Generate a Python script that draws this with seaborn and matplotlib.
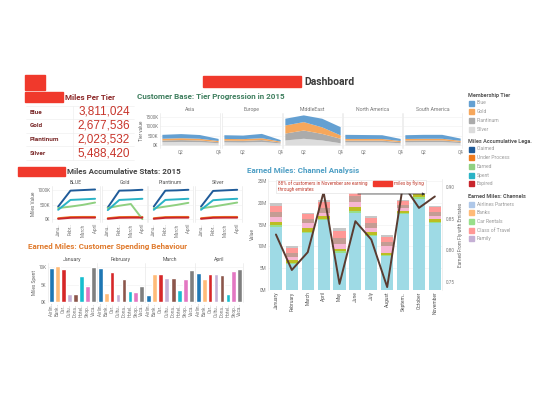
import matplotlib
matplotlib.use("Agg")
import matplotlib.pyplot as plt
import seaborn as sns
import pandas as pd
import numpy as np
from matplotlib.patches import Rectangle

# ---------------- data ----------------
tiers = ["Blue", "Gold", "Plantinum", "Silver"]
tier_miles = [3811024, 2677536, 2023532, 5488420]

regions = ["Asia", "Europe", "MiddleEast", "North America", "South America"]
quarters = ["Q1", "Q2", "Q3", "Q4"]
# tier value (K) per region, per quarter
silver_k = [[180, 190, 180, 120], [170, 160, 190, 110], [270, 360, 270, 120], [170, 170, 170, 120], [170, 180, 180, 130]]
plat_k = [[90, 100, 90, 60], [90, 90, 100, 50], [370, 440, 350, 240], [90, 90, 90, 60], [90, 90, 90, 60]]
gold_k = [[90, 100, 90, 60], [90, 90, 100, 50], [430, 450, 350, 180], [90, 90, 90, 60], [90, 90, 90, 60]]
blue_k = [[210, 220, 200, 110], [200, 190, 230, 80], [360, 360, 460, 440], [220, 210, 200, 110], [200, 210, 210, 120]]

acc_tiers = ["BLUE", "Gold", "Plantinum", "Silver"]
acc_months = ["Janu..", "Febr..", "March", "April"]
acc_status = ["Claimed", "Under Process", "Earned", "Spent", "Expired"]
claimed_k = [[430, 980, 1000, 1020], [400, 980, 990, 1010], [430, 980, 990, 1010], [430, 970, 990, 1010]]
process_k = [[30, 70, 75, 75], [30, 70, 75, 75], [30, 70, 75, 75], [30, 70, 75, 75]]
earned_k = [[380, 430, 490, 570], [380, 460, 520, 0], [370, 430, 490, 560], [370, 430, 500, 570]]
spent_k = [[320, 660, 680, 700], [310, 660, 680, 700], [320, 660, 680, 700], [320, 650, 680, 700]]
expired_k = [[10, 45, 50, 50], [10, 45, 50, 50], [10, 45, 50, 50], [10, 45, 50, 50]]

spend_months = ["January", "February", "March", "April"]
spend_cats = ["Airlin..", "Bank..", "Car..", "Cultu..", "Dona..", "Hotel..", "Shop..", "Vaca.."]
spend_k = [[9.9, 10.3, 9.4, 2.2, 2.4, 7.5, 4.5, 10.1],
           [9.8, 2.6, 8.6, 2.3, 6.5, 3.3, 3.0, 4.7],
           [2.0, 8.0, 8.0, 7.0, 6.9, 3.4, 6.6, 9.3],
           [8.2, 6.5, 8.0, 8.0, 7.8, 2.4, 8.8, 9.4]]

ch_months = ["January", "February", "March", "April", "May", "June", "July", "August",
             "Septem..", "October", "November"]
ch_fly = [14.5, 6.0, 13.0, 16.0, 8.5, 17.7, 12.4, 7.8, 17.4, 21.0, 15.3]
ch_car = [0.4, 0.3, 0.4, 0.3, 0.4, 0.4, 0.3, 0.3, 0.3, 0.3, 0.3]
ch_hotel = [0.7, 0.6, 0.8, 0.6, 0.6, 0.9, 0.6, 0.5, 0.5, 0.7, 0.6]
ch_shop = [1.1, 0.7, 1.1, 0.9, 1.1, 1.2, 0.9, 1.4, 0.6, 0.5, 0.8]
ch_family = [1.2, 0.9, 1.0, 1.0, 1.4, 1.3, 1.1, 1.0, 0.8, 0.7, 0.9]
ch_class = [1.5, 1.1, 1.1, 1.4, 1.6, 1.6, 1.3, 1.2, 0.8, 0.8, 1.1]
ch_bank = [0.6, 0.4, 0.4, 0.4, 0.7, 0.7, 0.5, 0.5, 0.3, 0.3, 0.4]
fly_ratio = [0.825, 0.769, 0.797, 0.892, 0.747, 0.846, 0.817, 0.742, 0.904, 0.867, 0.885]

# ---------------- style ----------------
RED = "#f0392c"
TICK = "#777777"
area_colors = ["#dcdcdc", "#ababab", "#f6a75c", "#64a0d2"]   # silver, plat, gold, blue
acc_colors = {"Claimed": "#1f5b99", "Under Process": "#f07c1f", "Earned": "#8fd081",
              "Spent": "#2ab3c6", "Expired": "#c8252c"}
spend_colors = ["#1f77b4", "#ffbb78", "#d62728", "#c5b0d5", "#8c564b", "#17becf", "#e377c2", "#7f7f7f"]
ch_colors = ["#9edae5", "#98df8a", "#bcbd22", "#f7b6d2", "#c49c94", "#ff9896", "#c7c7c7"]

sns.set_theme(style="white")
plt.rcParams["font.family"] = ["Roboto", "DejaVu Sans"]
plt.rcParams["axes.linewidth"] = 0.4

W, H = 560, 396
fig = plt.figure(figsize=(W / 100, H / 100), dpi=100)
fig.patch.set_facecolor("white")


def pax(x0, y0, x1, y1):
    return fig.add_axes([x0 / W, 1 - y1 / H, (x1 - x0) / W, (y1 - y0) / H])


def tidy(ax, left_labels=True):
    for s in ["top", "bottom"]:
        ax.spines[s].set_visible(False)
    for s in ["left", "right"]:
        ax.spines[s].set_color("#e4e4e4")
        ax.spines[s].set_linewidth(0.4)
    ax.tick_params(length=0, labelsize=3.3, colors=TICK, pad=1)
    ax.set_xlabel("")
    ax.set_ylabel("")
    if not left_labels:
        ax.set_yticklabels([])
    ax.grid(axis="y", color="#f0f0f0", lw=0.4)
    ax.set_axisbelow(True)


# ---------------- tier progression (stacked areas) ----------------
area_px = [(160, 220), (222, 282), (283, 342), (343, 402), (403, 462)]
for i, (reg, (x0, x1)) in enumerate(zip(regions, area_px)):
    ax = pax(x0, 113, x1, 148)
    ax.stackplot(range(4), silver_k[i], plat_k[i], gold_k[i], blue_k[i],
                 colors=area_colors, lw=0)
    ax.set_xlim(-0.1, 3.1)
    ax.set_ylim(-160, 1710)
    ax.set_yticks([0, 500, 1000, 1500])
    ax.set_yticklabels(["0K", "500K", "1000K", "1500K"])
    ax.set_xticks([1, 3])
    ax.set_xticklabels([quarters[1], quarters[3]])
    tidy(ax, left_labels=(i == 0))
    if i == 0:
        ax.set_ylabel("Tier value", fontsize=3.4, color="#666", labelpad=1)
    ax.set_title(reg, fontsize=3.7, color="#777", pad=1.5)

# ---------------- accumulative stats (lines) ----------------
rows = []
for ti, t in enumerate(acc_tiers):
    for st, arr in zip(acc_status, [claimed_k, process_k, earned_k, spent_k, expired_k]):
        for mi in range(4):
            rows.append({"tier": t, "m": mi, "status": st, "value": arr[ti][mi]})
acc_df = pd.DataFrame(rows)

acc_px = [(52, 100), (102, 147), (148, 193), (195, 242)]
for i, (t, (x0, x1)) in enumerate(zip(acc_tiers, acc_px)):
    ax = pax(x0, 186, x1, 222)
    sns.lineplot(data=acc_df[acc_df.tier == t], x="m", y="value", hue="status",
                 hue_order=acc_status, palette=acc_colors, legend=False, lw=1.4, ax=ax)
    ax.set_xlim(-0.5, 3.4)
    ax.set_ylim(-100, 1140)
    ax.set_yticks([0, 500, 1000])
    ax.set_yticklabels(["0K", "500K", "1000K"])
    ax.set_xticks(range(4))
    ax.set_xticklabels(acc_months, rotation=90)
    tidy(ax, left_labels=(i == 0))
    if i == 0:
        ax.set_ylabel("Miles Value", fontsize=3.4, color="#666", labelpad=1)
    ax.set_title(t, fontsize=3.7, color="#555", pad=1.5)

# ---------------- spending behaviour (bars) ----------------
srows = []
for mi, m in enumerate(spend_months):
    for ci, c in enumerate(spend_cats):
        srows.append({"month": m, "cat": c, "k": spend_k[mi][ci]})
spend_df = pd.DataFrame(srows)

spend_px = [(48, 97), (97, 145), (145, 195), (195, 243)]
for i, (m, (x0, x1)) in enumerate(zip(spend_months, spend_px)):
    ax = pax(x0, 263, x1, 302)
    sns.barplot(data=spend_df[spend_df.month == m], x="cat", y="k", hue="cat",
                order=spend_cats, hue_order=spend_cats, palette=spend_colors,
                legend=False, width=0.8, dodge=False, saturation=1, ax=ax)
    ax.set_xlim(-0.55, 7.55)
    ax.set_ylim(0, 11.2)
    ax.set_yticks([0, 5, 10])
    ax.set_yticklabels(["0K", "5K", "10K"])
    ax.tick_params(axis="x", rotation=90)
    tidy(ax, left_labels=(i == 0))
    if i == 0:
        ax.set_ylabel("Miles Spent", fontsize=3.4, color="#666", labelpad=1)
    ax.set_title(m, fontsize=3.7, color="#555", pad=1.5)

# ---------------- channel analysis (stacked bars + ratio line) ----------------
ax = pax(268, 179, 442, 290)
x = np.arange(len(ch_months))
bottom = np.zeros(len(ch_months))
for seg, col in zip([ch_fly, ch_car, ch_hotel, ch_shop, ch_family, ch_class, ch_bank], ch_colors):
    ax.bar(x, seg, bottom=bottom, color=col, width=0.76, lw=0)
    bottom += np.array(seg)
ax.set_xlim(-0.5, 10.45)
ax.set_ylim(0, 25.5)
ax.set_yticks([0, 5, 10, 15, 20, 25])
ax.set_yticklabels(["0M", "5M", "10M", "15M", "20M", "25M"])
ax.set_xticks(x)
ax.set_xticklabels(ch_months, rotation=90)
tidy(ax)
ax.tick_params(axis="x", labelsize=3.5, colors="#555")
ax.set_ylabel("Value", fontsize=3.4, color="#666", labelpad=2)

ax2 = ax.twinx()
sns.lineplot(x=x, y=fly_ratio, color="#5a3b30", lw=1.4, ax=ax2)
ax2.set_ylim(0.7374, 0.9126)
ax2.set_yticks([0.75, 0.80, 0.85, 0.90])
ax2.set_yticklabels(["0.75", "0.80", "0.85", "0.90"])
ax2.tick_params(length=0, labelsize=3.3, colors=TICK, pad=3)
for s in ax2.spines.values():
    s.set_visible(False)
ax2.set_ylabel("Earned From Fly with Emirates", fontsize=3.4, color="#666", labelpad=2)

# ---------------- overlay: titles, table, legends ----------------
ov = fig.add_axes([0, 0, 1, 1])
ov.set_xlim(0, W)
ov.set_ylim(H, 0)
ov.axis("off")

ov.add_patch(Rectangle((25, 75), 20, 15, color=RED))
ov.add_patch(Rectangle((203, 76), 98, 11, color=RED))
ov.text(304, 82, "Dashboard", fontsize=7.5, weight="bold", color="#3a3a3a", va="center")

ov.add_patch(Rectangle((25, 92), 38, 10, color=RED))
ov.text(65, 97.5, "Miles Per Tier", fontsize=5.8, weight="bold", color="#8b2525", va="center")
for i, (t, v) in enumerate(zip(tiers, tier_miles)):
    y = 112 + i * 13.7
    ov.text(30, y, t, fontsize=4.6, weight="bold", color="#7b2a2a", va="center")
    ov.text(104, y, f"{v:,}", fontsize=8.5, color="#c8352b", ha="center", va="center",
            family=["Liberation Sans", "DejaVu Sans"])
for y in [105.5, 118.8, 132.5, 146.2, 159.8]:
    ov.plot([26, 134], [y, y], color="#ececec", lw=0.4)
ov.plot([73, 73], [105.5, 159.8], color="#ececec", lw=0.4)

ov.text(137, 97, "Customer Base: Tier Progression in 2015", fontsize=5.8, weight="bold",
        color="#3f7f5f", va="center")
ov.add_patch(Rectangle((18, 167), 47, 9, color=RED))
ov.text(67, 171.5, "Miles Accumulative Stats: 2015", fontsize=5.8, weight="bold", color="#444", va="center")
ov.text(28, 247, "Earned Miles: Customer Spending Behaviour", fontsize=5.8, weight="bold",
        color="#e07b2e", va="center")
ov.text(247, 171, "Earned Miles: Channel Analysis", fontsize=5.8, weight="bold", color="#4d9ec4", va="center")

# annotation box on the channel chart
ov.add_patch(Rectangle((276, 180), 150, 13, fc="white", ec="#dddddd", lw=0.4))
ov.text(278, 183.5, "88% of customers in November are earning", fontsize=3.3, color="#c0392b", va="center")
ov.add_patch(Rectangle((373, 180.8), 19, 5, color=RED))
ov.text(394, 183.5, "miles by flying", fontsize=3.3, color="#c0392b", va="center")
ov.text(278, 189, "through emirates", fontsize=3.3, color="#c0392b", va="center")
ov.annotate("", xy=(428, 194), xytext=(355, 194),
            arrowprops=dict(arrowstyle="-|>", color="#333", lw=0.5, mutation_scale=4))

# legends
legends = [
    ("Membership Tier", 95, list(zip(tiers, ["#64a0d2", "#f6a75c", "#ababab", "#dcdcdc"]))),
    ("Miles Accumulative Lega.", 141, [(s, acc_colors[s]) for s in acc_status]),
    ("Earned Miles: Channels", 196, list(zip(["Airlines Partners", "Banks", "Car Rentals",
                                               "Class of Travel", "Family"],
                                              ["#aec7e8", "#ffbb78", "#98df8a", "#ff9896", "#c5b0d5"]))),
]
for title, y0, items in legends:
    ov.text(468, y0, title, fontsize=4.0, weight="bold", color="#555", va="center")
    for j, (name, col) in enumerate(items):
        y = y0 + 8 + j * 8.7
        ov.add_patch(Rectangle((469, y - 2.5), 5, 5, color=col))
        ov.text(477, y, name, fontsize=3.6, color="#999", va="center")

fig.savefig("out.png", dpi=100, facecolor="white")
